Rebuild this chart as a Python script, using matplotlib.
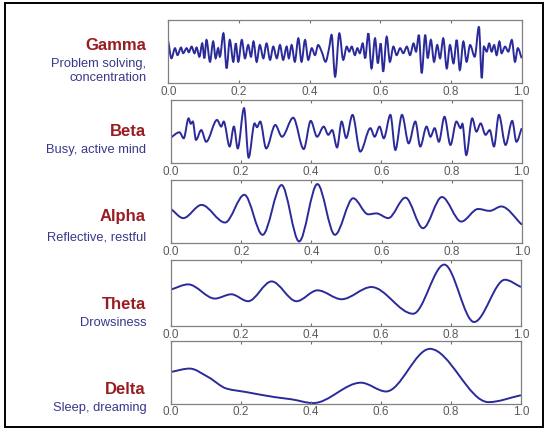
import numpy as np
import matplotlib
matplotlib.use('Agg')
import matplotlib.pyplot as plt
from matplotlib.path import Path
from matplotlib.patches import PathPatch, Rectangle

# peaks / troughs, time 0..1, amplitude -100..100
gamma_t = [0.000, 0.009, 0.019, 0.026, 0.036, 0.042, 0.052, 0.058, 0.066, 0.074,
           0.080, 0.088, 0.096, 0.102, 0.108, 0.118, 0.127, 0.134, 0.141, 0.146,
           0.156, 0.165, 0.174, 0.184, 0.191, 0.198, 0.208, 0.217, 0.226, 0.234,
           0.241, 0.250, 0.259, 0.269, 0.278, 0.288, 0.297, 0.307, 0.316, 0.325,
           0.335, 0.341, 0.349, 0.358, 0.368, 0.377, 0.387, 0.396, 0.406, 0.415,
           0.424, 0.434, 0.445, 0.455, 0.462, 0.472, 0.484, 0.495, 0.505, 0.512,
           0.519, 0.528, 0.535, 0.542, 0.550, 0.557, 0.566, 0.575, 0.585, 0.593,
           0.601, 0.608, 0.618, 0.627, 0.637, 0.646, 0.656, 0.665, 0.675, 0.684,
           0.694, 0.701, 0.709, 0.717, 0.727, 0.734, 0.743, 0.752, 0.761, 0.769,
           0.778, 0.788, 0.797, 0.807, 0.816, 0.825, 0.835, 0.844, 0.854, 0.867,
           0.879, 0.887, 0.893, 0.901, 0.908, 0.915, 0.922, 0.929, 0.937, 0.943,
           0.953, 0.962, 0.972, 0.981, 0.989, 1.000]
gamma_v = [32, -21, 11, -11, 13, -5, 11, -2, 16, -5,
           13, -16, 26, -21, 37, -32, 32, -21, 11, -16,
           58, -53, 37, -32, 26, -32, 37, -21, 21, -16,
           32, -32, 21, -21, 26, -26, 16, -21, 21, -26,
           16, -21, 21, -32, 42, -32, 37, -26, 11, -11,
           21, 0, -32, 11, 53, -79, 58, -26, 16, 0,
           16, -11, 11, -5, 26, -21, 58, -53, 42, -37,
           26, -63, 47, -32, 16, -11, 11, -5, 16, -11,
           26, 0, 53, -68, 53, -21, 37, -32, 21, -21,
           42, -53, 21, -37, 37, -58, 32, -32, 21, -16,
           79, -84, 16, 0, 26, 0, 21, -11, 32, -5,
           16, 0, 37, -32, 11, -21]

beta_t = [0.000, 0.025, 0.037, 0.051, 0.057, 0.063, 0.072, 0.087, 0.101, 0.132,
          0.144, 0.151, 0.168, 0.180, 0.191, 0.209, 0.222, 0.239, 0.246, 0.255,
          0.272, 0.298, 0.317, 0.349, 0.379, 0.399, 0.417, 0.436, 0.449, 0.460,
          0.474, 0.487, 0.500, 0.518, 0.540, 0.569, 0.581, 0.595, 0.607, 0.626,
          0.640, 0.659, 0.678, 0.697, 0.711, 0.729, 0.740, 0.752, 0.764, 0.780,
          0.797, 0.814, 0.826, 0.831, 0.842, 0.859, 0.871, 0.883, 0.897, 0.909,
          0.921, 0.935, 0.954, 0.973, 0.985, 1.000]
beta_v = [-19, -2, -21, 42, 25, 32, -26, 5, -32, 37,
          16, 32, -47, 16, -53, 74, -82, 26, 14, 32,
          -53, 21, -16, 44, -55, 34, -16, 16, -10, 5,
          -50, 32, -20, 53, -63, 11, -16, 16, -21, 53,
          -58, 53, -37, 32, -47, 16, -16, 11, -32, 47,
          -42, 32, 11, 25, -74, 42, 0, 26, -10, 5,
          -47, 53, -42, 34, -32, 11]

alpha_t = [0.000, 0.035, 0.087, 0.154, 0.209, 0.261, 0.315, 0.365, 0.417, 0.467,
           0.519, 0.562, 0.585, 0.619, 0.668, 0.718, 0.772, 0.827, 0.875, 0.908,
           0.941, 1.000]
alpha_v = [8, -21, 21, -35, 53, -74, 84, -95, 87, -74,
           42, -9, -6, -21, 44, -53, 46, -32, 8, 2,
           16, -42]

theta_t = [0.000, 0.050, 0.126, 0.173, 0.221, 0.288, 0.359, 0.419, 0.488, 0.573,
           0.692, 0.781, 0.866, 0.954, 1.000]
theta_v = [11, 27, -16, -3, -24, 36, -24, 9, -18, 19,
           -62, 87, -87, 41, 19]

delta_t = [0.000, 0.054, 0.107, 0.160, 0.216, 0.297, 0.345, 0.407, 0.543, 0.615,
           0.740, 0.907, 1.000]
delta_v = [1, 12, -15, -52, -63, -79, -86, -98, -33, -61,
           75, -95, -73]

names = ['Gamma', 'Beta', 'Alpha', 'Theta', 'Delta']
notes = [['Problem solving,', 'concentration'], ['Busy, active mind'],
         ['Reflective, restful'], ['Drowsiness'], ['Sleep, dreaming']]
waves = [(gamma_t, gamma_v), (beta_t, beta_v), (alpha_t, alpha_v),
         (theta_t, theta_v), (delta_t, delta_v)]
ticks = [0.0, 0.2, 0.4, 0.6, 0.8, 1.0]


def wave_path(t, v):
    # monotone cubic through the extrema, drawn as bezier segments
    t = np.asarray(t, float)
    v = np.asarray(v, float)
    h = np.diff(t)
    d = np.diff(v) / h
    m = np.zeros_like(v)
    m[0] = d[0]
    m[-1] = d[-1]
    for i in range(1, len(v) - 1):
        if d[i - 1] * d[i] > 0:
            m[i] = 2.0 / (1.0 / d[i - 1] + 1.0 / d[i])
    verts = [(t[0], v[0])]
    codes = [Path.MOVETO]
    for i in range(len(h)):
        verts += [(t[i] + h[i] / 3, v[i] + m[i] * h[i] / 3),
                  (t[i + 1] - h[i] / 3, v[i + 1] - m[i + 1] * h[i] / 3),
                  (t[i + 1], v[i + 1])]
        codes += [Path.CURVE4] * 3
    return Path(verts, codes)


fig = plt.figure(figsize=(5.5, 4.34), dpi=100)
fig.patch.set_facecolor('white')
plt.rcParams['font.family'] = ['Liberation Sans', 'DejaVu Sans']

# axes boxes in pixels (left, top, right, bottom)
boxes = [(168.3, 20.0, 521.7, 83.3), (170.7, 100.0, 521.7, 163.3),
         (171.0, 180.0, 522.0, 243.0), (170.7, 260.3, 521.0, 326.3),
         (170.7, 341.0, 521.0, 403.7)]
# label baselines in pixels: title, then note lines
label_y = [(49.5, [66.5, 81]), (136, [152.5]), (221, [241]), (309, [325.5]), (394, [410.5])]

W, H = 550.0, 434.0
for k in range(5):
    l, tp, r, b = boxes[k]
    ax = fig.add_axes([l / W, 1 - b / H, (r - l) / W, (b - tp) / H])
    ax.set_facecolor('white')
    t, v = waves[k]
    ax.add_patch(PathPatch(wave_path(t, v), fill=False, edgecolor='#2a2a9a',
                           linewidth=1.4, transform=ax.transData))
    ax.set_xlim(0, 1)
    ax.set_ylim(-100, 100)
    ax.set_yticks([])
    ax.set_xticks(ticks)
    ax.set_xticklabels(['%.1f' % x for x in ticks])
    ax.tick_params(axis='x', direction='in', top=True, length=2.5, width=0.8,
                   color='#707070', labelcolor='#5a5a5a', labelsize=8.5, pad=2)
    for s in ax.spines.values():
        s.set_color('#808080')
        s.set_linewidth(0.9)

    ty, ny = label_y[k]
    fig.text(146 / W, 1 - ty / H, names[k], ha='right', va='baseline',
             fontsize=12, fontweight='bold', color='#991c22')
    for line, y in zip(notes[k], ny):
        fig.text(146.5 / W, 1 - y / H, line, ha='right', va='baseline',
                 fontsize=9.3, color='#38388c')

# outer frame
fig.patches.append(Rectangle((5 / W, 1 - 427 / H), 538 / W, 424 / H, fill=False,
                             edgecolor='black', linewidth=1.4,
                             transform=fig.transFigure, figure=fig))

plt.savefig('out.png', dpi=100)
